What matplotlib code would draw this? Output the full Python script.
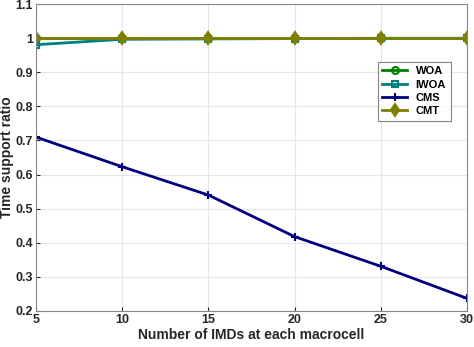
import numpy as np
import matplotlib.pyplot as plt

plt.rcParams['font.family'] = ['Liberation Sans', 'DejaVu Sans']

# data
imds = [5, 10, 15, 20, 25, 30]
woa = [1.0, 1.0, 1.0, 1.0, 1.0, 1.0]
iwoa = [0.981, 0.997, 0.998, 0.999, 1.0, 1.0]
cms = [0.710, 0.623, 0.540, 0.418, 0.331, 0.237]
cmt = [1.0, 1.0, 1.0, 1.0, 1.0, 1.0]

fig = plt.figure(figsize=(4.74, 3.47), dpi=100)
ax = fig.add_axes([0.076, 0.104, 0.909, 0.884])

ax.plot(imds, woa, color=(0, 0.5, 0), marker='o', markersize=5, mfc='none', mew=1.5, lw=2, label='WOA')
ax.plot(imds, iwoa, color=(0, 0.5, 0.5), marker='s', markersize=4, mfc='none', mew=1.5, lw=2, label='IWOA')
ax.plot(imds, cms, color=(0, 0, 0.5), marker='+', markersize=6, mew=1.5, lw=2, label='CMS')
ax.plot(imds, cmt, color=(0.5, 0.5, 0), marker='d', markersize=6, mfc=(0.5, 0.5, 0), mew=1.5, lw=2, label='CMT')

ax.set_xlim(5, 30)
ax.set_ylim(0.2, 1.1)
ax.set_xticks([5, 10, 15, 20, 25, 30])
ax.set_yticks(np.arange(0.2, 1.11, 0.1))
ax.set_yticklabels(['0.2', '0.3', '0.4', '0.5', '0.6', '0.7', '0.8', '0.9', '1', '1.1'])
ax.grid(True, color='#e6e6e6', lw=0.8)
ax.set_axisbelow(True)
for s in ax.spines.values():
    s.set_color('#888888')
ax.tick_params(direction='in', colors='#262626', labelsize=9, length=3, pad=2)
for lab in ax.get_xticklabels() + ax.get_yticklabels():
    lab.set_fontweight('bold')

ax.set_xlabel('Number of IMDs at each macrocell', fontsize=10, fontweight='bold', color='#262626', labelpad=2)
ax.set_ylabel('Time support ratio', fontsize=10, fontweight='bold', color='#262626', labelpad=1)

leg = ax.legend(loc='upper right', bbox_to_anchor=(0.975, 0.83), prop={'weight': 'bold', 'size': 8},
                fancybox=False, edgecolor='#666666', handlelength=2.2, borderpad=0.4, labelspacing=0.3)
leg.get_frame().set_linewidth(0.8)

fig.savefig('out.png', dpi=100)
